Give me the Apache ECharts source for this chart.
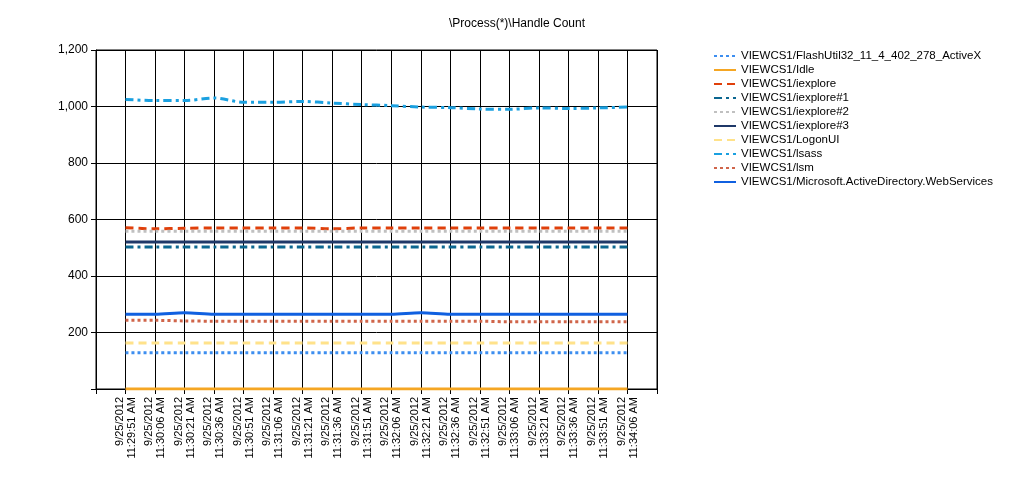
<!DOCTYPE html>
<html><head><meta charset="utf-8">
<script src="https://cdn.jsdelivr.net/npm/echarts@6/dist/echarts.min.js"></script>
<style>html,body{margin:0;background:#fff}#c{width:1024px;height:480px}</style>
</head><body><div id="c"></div>
<script>
var times = ['11:29:51','11:30:06','11:30:21','11:30:36','11:30:51','11:31:06','11:31:21','11:31:36','11:31:51',
  '11:32:06','11:32:21','11:32:36','11:32:51','11:33:06','11:33:21','11:33:36','11:33:51','11:34:06'];
var categories = [''].concat(times.map(function(t){ return '9/25/2012\n' + t + ' AM'; }), ['']);

var flash = [128,128,128,128,128,128,128,128,128,128,128,128,128,128,128,128,128,128];
var idle = [0,0,0,0,0,0,0,0,0,0,0,0,0,0,0,0,0,0];
var iexplore = [571,567,569,570,570,570,570,567,570,570,570,570,570,570,570,570,570,570];
var iexplore1 = [503,503,503,503,503,503,503,503,503,503,503,503,503,503,503,503,503,503];
var iexplore2 = [558,558,558,558,558,558,558,558,558,558,558,558,558,558,558,558,558,558];
var iexplore3 = [520,520,520,520,520,520,520,520,520,520,520,520,520,520,520,520,520,520];
var logonui = [163,163,163,163,163,163,163,163,163,163,163,163,163,163,163,163,163,163];
var lsass = [1025,1021,1021,1030,1015,1015,1018,1012,1007,1003,998,996,991,990,995,993,995,998];
var lsm = [243,243,241,240,240,240,240,240,240,240,240,240,240,238,238,238,238,238];
var webServices = [265,265,270,265,265,265,265,265,265,265,270,265,265,265,265,265,265,265];

function pad(a){ return [null].concat(a, [null]); }
function s(name, data, color, type){
  return { name: name, type: 'line', data: pad(data), symbol: 'none', smooth: 0.3,
    lineStyle: { color: color, width: 3, type: type }, itemStyle: { color: color } };
}
var series = [
  s('VIEWCS1/FlashUtil32_11_4_402_278_ActiveX', flash, '#3d8ef0', [3,3]),
  s('VIEWCS1/Idle', idle, '#f5a623', 'solid'),
  s('VIEWCS1/iexplore', iexplore, '#e0400b', [8,5]),
  s('VIEWCS1/iexplore#1', iexplore1, '#0b6690', [8,4,3,4]),
  s('VIEWCS1/iexplore#2', iexplore2, '#c0c0c0', [3,3]),
  s('VIEWCS1/iexplore#3', iexplore3, '#1f3868', 'solid'),
  s('VIEWCS1/LogonUI', logonui, '#ffe28a', [8,5]),
  s('VIEWCS1/lsass', lsass, '#1aa0e0', [8,4,3,4]),
  s('VIEWCS1/lsm', lsm, '#d0654a', [3,3]),
  s('VIEWCS1/Microsoft.ActiveDirectory.WebServices', webServices, '#1060e0', 'solid')
];

var chart = echarts.init(document.getElementById('c'));
chart.setOption({
  animation: false,
  title: { text: '\\Process(*)\\Handle Count', left: 512, top: 13, textAlign: 'center',
    textStyle: { fontFamily: 'Liberation Sans', fontSize: 12, fontWeight: 'normal', color: '#000' } },
  legend: { orient: 'vertical', left: 708, top: 45, itemGap: 2, itemWidth: 22, itemHeight: 12,
    itemStyle: { opacity: 0 },
    textStyle: { fontFamily: 'Liberation Sans', fontSize: 11.5, color: '#000' } },
  grid: { left: 96, right: 367, top: 50, bottom: 91, show: true, borderColor: '#000', borderWidth: 1 },
  xAxis: { type: 'category', data: categories, boundaryGap: false,
    axisLine: { lineStyle: { color: '#000' } },
    axisTick: { alignWithLabel: true, lineStyle: { color: '#000' }, length: 5 },
    splitLine: { show: true, lineStyle: { color: '#000' } },
    axisLabel: { rotate: 90, interval: 0, fontFamily: 'Liberation Sans', fontSize: 11, color: '#000', lineHeight: 12 } },
  yAxis: { type: 'value', min: 0, max: 1200, interval: 200,
    axisLine: { show: true, lineStyle: { color: '#000' } },
    axisTick: { show: true, lineStyle: { color: '#000' }, length: 5 },
    splitLine: { lineStyle: { color: '#000' } },
    axisLabel: { fontFamily: 'Liberation Sans', fontSize: 12, color: '#000',
      formatter: function(v){ return v === 0 ? '' : v.toLocaleString('en-US'); } } },
  series: series
});
</script></body></html>
